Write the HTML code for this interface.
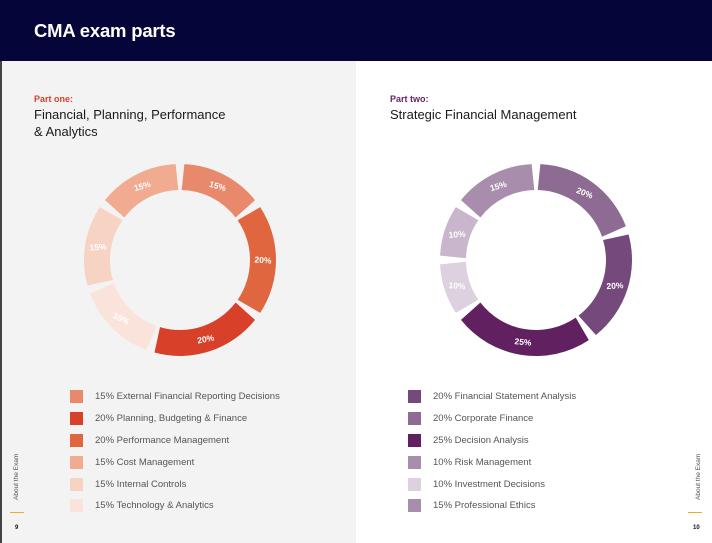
<!DOCTYPE html>
<html><head><meta charset="utf-8"><style>
*{margin:0;padding:0;box-sizing:border-box}
body{width:712px;height:543px;position:relative;overflow:hidden;background:#fff;font-family:"Liberation Sans",sans-serif}
.hdr{position:absolute;left:0;top:0;width:712px;height:61px;background:#05053a}
.hdr h1{position:absolute;left:34px;top:20px;color:#fff;font-size:18.5px;font-weight:bold;letter-spacing:-0.2px}
.lp{position:absolute;left:0;top:61px;width:356px;height:482px;background:#f3f3f3;border-left:2px solid #444}
.part{position:absolute;font-size:9px;font-weight:bold}
.sub{position:absolute;font-size:13px;color:#1a1a1a;line-height:17px}
.leg{position:absolute;font-size:9.5px;color:#555}
.leg div{height:21.8px;display:flex;align-items:center}
.leg span{display:inline-block;width:13px;height:13px;margin-right:12px}
.side{position:absolute;font-size:6.5px;color:#555;transform:rotate(-90deg);transform-origin:left top;white-space:nowrap}
.ol{position:absolute;width:14px;height:1px;background:#f0a830;top:512px}
.pn{position:absolute;top:525px;font-size:6px;font-weight:bold;color:#111}
svg{position:absolute;left:0;top:0}
</style></head><body>
<div class="hdr"><h1>CMA exam parts</h1></div>
<div class="lp"></div>
<div class="part" style="left:34px;top:94px;color:#d9402a">Part one:</div>
<div class="sub" style="left:34px;top:106px">Financial, Planning, Performance<br>&amp; Analytics</div>
<div class="part" style="left:390px;top:94px;color:#6a1f66">Part two:</div>
<div class="sub" style="left:390px;top:106px">Strategic Financial Management</div>
<svg id="s" width="712" height="543"></svg>
<div class="leg" style="left:70px;top:386px">
<div><span style="background:#e8896b"></span>15% External Financial Reporting Decisions</div>
<div><span style="background:#d9402a"></span>20% Planning, Budgeting &amp; Finance</div>
<div><span style="background:#e06640"></span>20% Performance Management</div>
<div><span style="background:#f0ab90"></span>15% Cost Management</div>
<div><span style="background:#f7d3c4"></span>15% Internal Controls</div>
<div><span style="background:#fae3da"></span>15% Technology &amp; Analytics</div>
</div>
<div class="leg" style="left:408px;top:386px">
<div><span style="background:#76497c"></span>20% Financial Statement Analysis</div>
<div><span style="background:#8e6b93"></span>20% Corporate Finance</div>
<div><span style="background:#61205f"></span>25% Decision Analysis</div>
<div><span style="background:#a88dac"></span>10% Risk Management</div>
<div><span style="background:#ddd0df"></span>10% Investment Decisions</div>
<div><span style="background:#a88dac"></span>15% Professional Ethics</div>
</div>
<div class="side" style="left:13px;top:500px">About the Exam</div>
<div class="side" style="left:695px;top:500px">About the Exam</div>
<div class="ol" style="left:10px"></div>
<div class="ol" style="left:688px"></div>
<div class="pn" style="left:15px">9</div>
<div class="pn" style="left:693px">10</div>
<script>
var s=document.getElementById('s'),NS='http://www.w3.org/2000/svg';
function donut(cx,cy,data){var R=96,r=70,g=2.6,a=0;
data.forEach(function(d){var a0=a+g,a1=a+d[0]*3.6-g;a+=d[0]*3.6;
function p(rr,t){var q=(t-90)*Math.PI/180;return [cx+rr*Math.cos(q),cy+rr*Math.sin(q)];}
var P1=p(R,a0),P2=p(R,a1),P3=p(r,a1+1.2),P4=p(r,a0-1.2);var lg=(a1-a0)>180?1:0;
var e=document.createElementNS(NS,'path');
e.setAttribute('d','M'+P1+' A'+R+' '+R+' 0 '+lg+' 1 '+P2+' L'+P3+' A'+r+' '+r+' 0 '+lg+' 0 '+P4+'Z');
e.setAttribute('fill',d[1]);s.appendChild(e);
var m=(a0+a1)/2,L=p(83,m),rot=m>180?m-360:m;
if(rot>90)rot=rot-180;if(rot<-90)rot=rot+180;rot*=(Math.abs(rot)>60?0.05:0.6);
var t=document.createElementNS(NS,'text');t.setAttribute('x',L[0]);t.setAttribute('y',L[1]+3);
t.setAttribute('text-anchor','middle');t.setAttribute('font-size','8.5');t.setAttribute('font-weight','bold');
t.setAttribute('fill','#fff');t.setAttribute('font-family','Liberation Sans, sans-serif');
t.setAttribute('transform','rotate('+rot+' '+L[0]+' '+L[1]+')');t.textContent=d[0]+'%';s.appendChild(t);});}
donut(180,260,[[15,'#e8896b'],[20,'#e06640'],[20,'#d9402a'],[15,'#fae3da'],[15,'#f7d3c4'],[15,'#f0ab90']]);
donut(536,260,[[20,'#8e6b93'],[20,'#76497c'],[25,'#61205f'],[10,'#ddd0df'],[10,'#c9b6cc'],[15,'#a88dac']]);
</script>
</body></html>
